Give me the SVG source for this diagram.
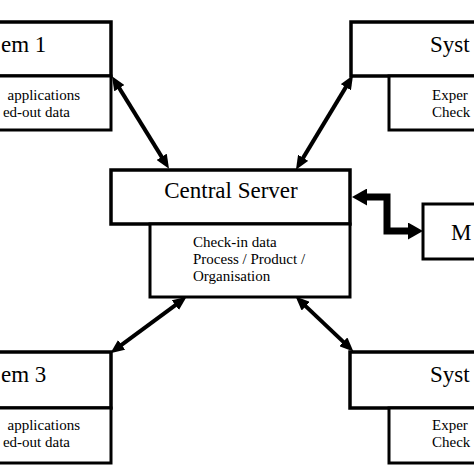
<svg xmlns="http://www.w3.org/2000/svg" width="474" height="474" viewBox="0 0 474 474">
  <defs>
    <style>
      .box{fill:#fff;stroke:#000;stroke-width:3.5}
      .sub{fill:#fff;stroke:#000;stroke-width:3}
      .title{font-family:"Liberation Serif","Times New Roman",serif;font-size:23px;fill:#000}
      .txt{font-family:"Liberation Serif","Times New Roman",serif;font-size:15px;fill:#000}
      .conn{fill:none;stroke:#000;stroke-width:4}
      .thick{fill:none;stroke:#000;stroke-width:7;stroke-linejoin:miter}
    </style>
    <marker id="ah" markerUnits="userSpaceOnUse" viewBox="0 0 14 12" refX="6" refY="6" markerWidth="14" markerHeight="12" orient="auto-start-reverse">
      <path d="M0,0 L14,6 L0,12 z" fill="#000"/>
    </marker>
    <marker id="ahb" markerUnits="userSpaceOnUse" viewBox="0 0 15 17" refX="6" refY="8.5" markerWidth="15" markerHeight="17" orient="auto-start-reverse">
      <path d="M0,0 L15,8.5 L0,17 z" fill="#000"/>
    </marker>
  </defs>
  <rect width="474" height="474" fill="#fff"/>

  <g id="system1">
    <rect class="box" x="-20" y="22" width="131" height="54"/>
    <rect class="sub" x="-20" y="76" width="131" height="54"/>
    <text class="title" x="1" y="52" font-size="21">em 1</text>
    <text class="txt" x="80" y="100" text-anchor="end">applications</text>
    <text class="txt" x="70" y="117" text-anchor="end">ed-out data</text>
  </g>

  <g id="system2">
    <rect class="box" x="351" y="22" width="140" height="54"/>
    <rect class="sub" x="389" y="76" width="100" height="54"/>
    <text class="title" x="430" y="52">Syst</text>
    <text class="txt" x="432" y="100">Exper</text>
    <text class="txt" x="432" y="117">Check</text>
  </g>

  <g id="central-server">
    <rect class="box" x="111" y="170" width="239" height="54"/>
    <rect class="sub" x="150" y="224" width="200" height="73"/>
    <text class="title" x="231" y="198" text-anchor="middle" font-size="24">Central Server</text>
    <text class="txt" x="193" y="247">Check-in data</text>
    <text class="txt" x="193" y="264">Process / Product /</text>
    <text class="txt" x="193" y="281">Organisation</text>
  </g>

  <g id="m-node">
    <rect class="sub" x="423" y="204" width="70" height="55"/>
    <text class="title" x="451" y="240" font-size="21">M</text>
  </g>

  <g id="system3">
    <rect class="box" x="-20" y="352" width="131" height="56"/>
    <rect class="sub" x="-20" y="408" width="131" height="55"/>
    <text class="title" x="1" y="382" font-size="21">em 3</text>
    <text class="txt" x="80" y="430" text-anchor="end">applications</text>
    <text class="txt" x="70" y="447" text-anchor="end">ed-out data</text>
  </g>

  <g id="system4">
    <rect class="box" x="350" y="352" width="140" height="56"/>
    <rect class="sub" x="389" y="408" width="100" height="55"/>
    <text class="title" x="430" y="382">Syst</text>
    <text class="txt" x="432" y="430">Exper</text>
    <text class="txt" x="432" y="447">Check</text>
  </g>

  <g id="connectors">
    <line class="conn" x1="116.2" y1="83.1" x2="164.8" y2="161.9" marker-start="url(#ah)" marker-end="url(#ah)"/>
    <line class="conn" x1="348.9" y1="82.1" x2="300.1" y2="162.9" marker-start="url(#ah)" marker-end="url(#ah)"/>
    <line class="conn" x1="180.2" y1="301.6" x2="116.8" y2="348.4" marker-start="url(#ah)" marker-end="url(#ah)"/>
    <line class="conn" x1="301.4" y1="302.1" x2="347.6" y2="345.9" marker-start="url(#ah)" marker-end="url(#ah)"/>
    <path class="thick" d="M361,197 H387 V231 H414" marker-start="url(#ahb)" marker-end="url(#ahb)"/>
  </g>
</svg>
